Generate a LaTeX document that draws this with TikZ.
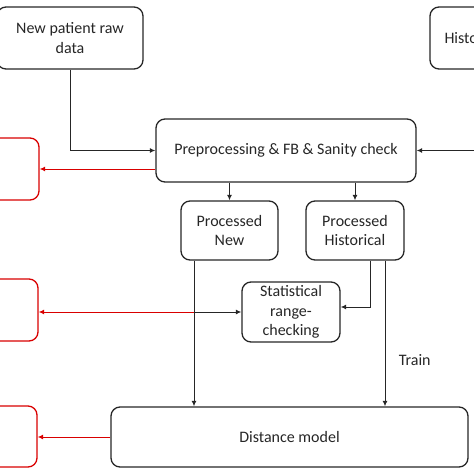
\documentclass[tikz,border=0pt]{standalone}
\usepackage{fontspec}
\setmainfont{Carlito}
\usetikzlibrary{arrows.meta,calc}
\begin{document}
\begin{tikzpicture}[x=1pt,y=-1pt,
  box/.style={draw=black!85,line width=1.3pt,rounded corners=9pt,align=center,inner sep=0pt,font=\fontsize{16}{19.5}\selectfont,text=black!85},
  redbox/.style={draw=red!85!black,line width=1.3pt,rounded corners=9pt,inner sep=0pt},
  arr/.style={draw=black!85,line width=1pt,-{Latex[length=5.5pt,width=5pt]}},
  redarr/.style={draw=red!85!black,line width=1pt,-{Latex[length=5.5pt,width=5pt]}},
  line/.style={draw=black!85,line width=1pt}]
\useasboundingbox (0,0) rectangle (474,474);
\node[box,minimum width=146pt,minimum height=62pt] (newraw) at (70,38) {New patient raw\\data};
\node[box,minimum width=122pt,minimum height=62pt] (hist) at (491,38) {Historical data};
\node[box,minimum width=260pt,minimum height=63pt] (prep) at (286,150.5) {Preprocessing \& FB \& Sanity check};
\node[box,minimum width=97pt,minimum height=59pt] (pnew) at (229.5,230.5) {Processed\\New};
\node[box,minimum width=98pt,minimum height=59pt] (phist) at (355,230.5) {Processed\\Historical};
\node[box,minimum width=98pt,minimum height=60pt] (stat) at (291,312) {Statistical\\range-\\checking};
\node[box,minimum width=357pt,minimum height=60pt] (dist) at (289.5,437) {Distance model};
\node[redbox,minimum width=99pt,minimum height=62pt] (red1) at (-10.5,169) {};
\node[redbox,minimum width=98pt,minimum height=62pt] (red2) at (-11,310) {};
\node[redbox,minimum width=98pt,minimum height=61pt] (red3) at (-12,436.5) {};
% connectors
\draw[arr] (newraw.south) |- (prep.west);
\draw[arr] (hist.south) |- (prep.east);
\draw[redarr] (prep.west |- red1.east) -- (red1.east);
\draw[arr] (pnew.north |- prep.south) -- (pnew.north);
\draw[arr] (phist.north |- prep.south) -- (phist.north);
\coordinate (b) at (194,312);
\draw[arr] (pnew.south -| b) -- (dist.north -| b);
\draw[arr] (b) -- (stat.west);
\draw[redarr] (b) -- (red2.east |- b);
\coordinate (h1) at (370,307);
\draw[arr] (phist.south -| h1) -- (h1) -- (stat.east |- h1);
\coordinate (h2) at (385,360);
\draw[arr] (phist.south -| h2) -- (dist.north -| h2) node[pos=0.68,right=10pt,font=\fontsize{16}{19}\selectfont,text=black!85] (train) {Train};
\draw[redarr] (dist.west) -- (red3.east |- dist.west);
\end{tikzpicture}
\end{document}
